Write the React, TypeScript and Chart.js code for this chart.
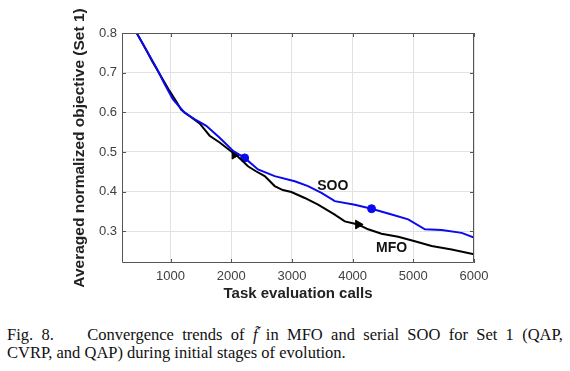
import React, { useEffect, useRef } from "react";
import { Chart, registerables } from "chart.js";

Chart.register(...registerables);

const sooX = [420, 600, 764, 900, 1038, 1231, 1424, 1589, 1809, 2028, 2221, 2441, 2716, 3046, 3266, 3487, 3706, 4036, 4312, 4600, 4916, 5191, 5467, 5797, 6000];
const sooY = [0.806, 0.757, 0.713, 0.672, 0.633, 0.599, 0.580, 0.566, 0.536, 0.503, 0.485, 0.456, 0.439, 0.426, 0.414, 0.397, 0.376, 0.367, 0.357, 0.344, 0.330, 0.305, 0.303, 0.296, 0.284];

const mfoX = [420, 600, 700, 818, 983, 1100, 1177, 1300, 1479, 1644, 1809, 2028, 2100, 2276, 2400, 2551, 2716, 2850, 2991, 3211, 3431, 3706, 3871, 4091, 4256, 4476, 4751, 5025, 5302, 5632, 6000];
const mfoY = [0.806, 0.757, 0.728, 0.697, 0.654, 0.626, 0.606, 0.592, 0.572, 0.541, 0.524, 0.498, 0.490, 0.464, 0.452, 0.439, 0.414, 0.404, 0.399, 0.384, 0.367, 0.342, 0.325, 0.317, 0.305, 0.294, 0.286, 0.275, 0.263, 0.254, 0.242];

const sooMarkX = [2221, 4312];
const sooMarkY = [0.485, 0.357];
const mfoMarkX = [2056, 4091];
const mfoMarkY = [0.493, 0.317];

const xTicks = [1000, 2000, 3000, 4000, 5000, 6000];
const yTicks = [0.3, 0.4, 0.5, 0.6, 0.7, 0.8];

const seriesLabels = [
  { text: "SOO", x: 3673, y: 0.414 },
  { text: "MFO", x: 4642, y: 0.258 },
];

const pts = (xs: number[], ys: number[]) => xs.map((x, i) => ({ x, y: ys[i] }));

const FONT = "'Liberation Sans', Arial, sans-serif";

const boxPlugin = {
  id: "boxPlugin",
  afterDatasetsDraw(chart: any) {
    const { ctx, chartArea: a, scales } = chart;
    ctx.save();
    ctx.strokeStyle = "#555";
    ctx.lineWidth = 1;
    ctx.beginPath();
    ctx.rect(a.left + 0.5, a.top + 0.5, a.right - a.left - 1, a.bottom - a.top - 1);
    ctx.stroke();
    const tl = 4;
    ctx.beginPath();
    xTicks.forEach((v) => {
      const x = Math.round(scales.x.getPixelForValue(v)) + 0.5;
      ctx.moveTo(x, a.bottom);
      ctx.lineTo(x, a.bottom - tl);
      ctx.moveTo(x, a.top);
      ctx.lineTo(x, a.top + tl);
    });
    yTicks.forEach((v) => {
      const y = Math.round(scales.y.getPixelForValue(v)) + 0.5;
      ctx.moveTo(a.left, y);
      ctx.lineTo(a.left + tl, y);
      ctx.moveTo(a.right, y);
      ctx.lineTo(a.right - tl, y);
    });
    ctx.stroke();
    ctx.fillStyle = "#111";
    ctx.font = "bold 14px " + FONT;
    ctx.textAlign = "center";
    ctx.textBaseline = "middle";
    seriesLabels.forEach((l) => {
      ctx.fillText(l.text, scales.x.getPixelForValue(l.x), scales.y.getPixelForValue(l.y));
    });
    ctx.restore();
  },
};

export default function App() {
  const ref = useRef<HTMLCanvasElement>(null);
  useEffect(() => {
    if (!ref.current) return;
    const chart = new Chart(ref.current, {
      type: "line",
      data: {
        datasets: [
          {
            label: "SOO",
            data: pts(sooX, sooY),
            borderColor: "#0a0af0",
            borderWidth: 2,
            pointRadius: 0,
            tension: 0,
          },
          {
            label: "MFO",
            data: pts(mfoX, mfoY),
            borderColor: "#000",
            borderWidth: 2,
            pointRadius: 0,
            tension: 0,
          },
          {
            label: "SOO markers",
            type: "scatter",
            data: pts(sooMarkX, sooMarkY),
            backgroundColor: "#0a0af0",
            borderColor: "#0a0af0",
            pointRadius: 4,
            pointStyle: "circle",
            showLine: false,
          },
          {
            label: "MFO markers",
            type: "scatter",
            data: pts(mfoMarkX, mfoMarkY),
            backgroundColor: "#000",
            borderColor: "#000",
            pointRadius: 5,
            pointStyle: "triangle",
            rotation: 90,
            showLine: false,
          },
        ],
      },
      options: {
        animation: false,
        responsive: false,
        maintainAspectRatio: false,
        layout: { padding: { left: 70, right: 96, top: 33, bottom: 0 } },
        plugins: { legend: { display: false }, tooltip: { enabled: false } },
        scales: {
          x: {
            type: "linear",
            min: 200,
            max: 6000,
            afterBuildTicks: (s: any) => {
              s.ticks = xTicks.map((v) => ({ value: v }));
            },
            afterFit: (s: any) => {
              s.height = 40;
            },
            grid: { color: "#e2e2e2", drawTicks: false },
            border: { display: false },
            ticks: {
              padding: 6,
              color: "#404040",
              font: { family: FONT, size: 13 },
              maxRotation: 0,
              callback: (v: any) => String(v),
            },
            title: {
              display: true,
              text: "Task evaluation calls",
              color: "#222",
              font: { family: FONT, size: 15, weight: "bold" },
              padding: { top: 1, bottom: 0 },
            },
          },
          y: {
            type: "linear",
            min: 0.22,
            max: 0.8,
            afterBuildTicks: (s: any) => {
              s.ticks = yTicks.map((v) => ({ value: v }));
            },
            afterFit: (s: any) => {
              s.width = 52;
            },
            grid: { color: "#e2e2e2", drawTicks: false },
            border: { display: false },
            ticks: {
              padding: 5,
              color: "#404040",
              font: { family: FONT, size: 13 },
              callback: (v: any) => Number(v).toFixed(1),
            },
            title: {
              display: true,
              text: "Averaged normalized objective (Set 1)",
              color: "#222",
              font: { family: FONT, size: 15.5, weight: "bold" },
              padding: { top: 0, bottom: 1 },
            },
          },
        },
      },
      plugins: [boxPlugin],
    } as any);
    return () => chart.destroy();
  }, []);

  return (
    <div style={{ position: "absolute", left: 0, top: 0, width: 570, height: 371, background: "#fff" }}>
      <canvas ref={ref} width={570} height={303} style={{ position: "absolute", left: 0, top: 0 }} />
      <div
        style={{
          position: "absolute",
          left: 7,
          top: 326,
          width: 556,
          fontFamily: "'Liberation Serif', 'Times New Roman', serif",
          fontSize: 16.5,
          lineHeight: "18px",
          color: "#111",
        }}
      >
        <div style={{ textAlign: "justify", textAlignLast: "justify", whiteSpace: "nowrap" as any }}>
          Fig. 8.&nbsp;&nbsp;&nbsp;&nbsp;Convergence trends of <i>f&#x0303;</i> in MFO and serial SOO for Set 1 (QAP,
        </div>
        <div>CVRP, and QAP) during initial stages of evolution.</div>
      </div>
    </div>
  );
}
